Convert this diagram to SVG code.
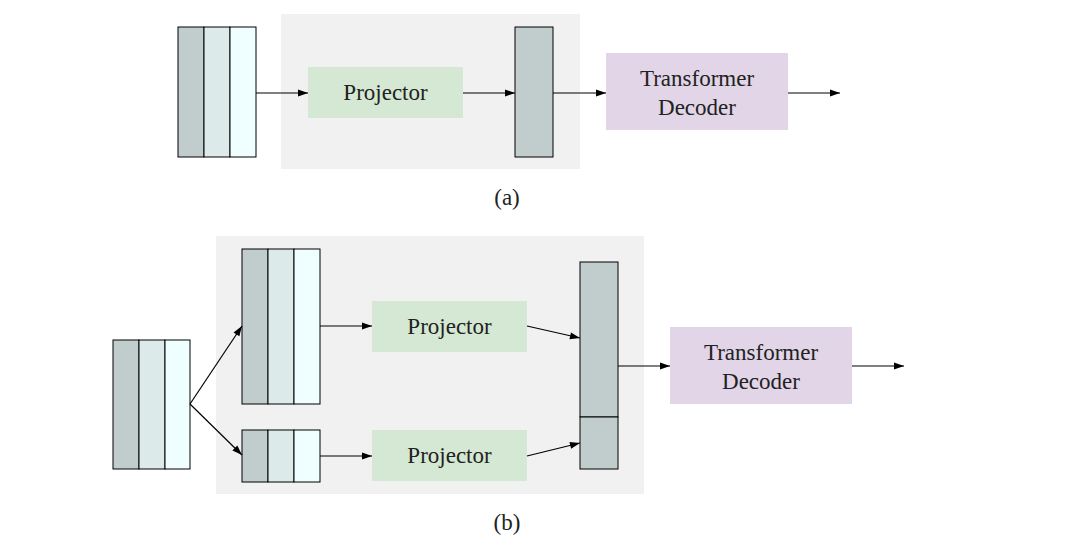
<svg xmlns="http://www.w3.org/2000/svg" width="1080" height="558" viewBox="0 0 1080 558">
<style>
.bg{fill:#f1f1f1}
.c1{fill:#c1cdcd;stroke:#000;stroke-width:1}
.c2{fill:#ddeaea;stroke:#000;stroke-width:1}
.c3{fill:#effefe;stroke:#000;stroke-width:1}
.proj{fill:#d5e8d4}
.dec{fill:#e1d5e7}
text{font-family:"Liberation Serif","DejaVu Serif",serif;font-size:23px;fill:#222;text-anchor:middle}
.ln{stroke:#000;stroke-width:1.2;fill:none;marker-end:url(#ah)}
</style>
<defs>
<marker id="ah" viewBox="0 0 10 10" refX="10" refY="5" markerWidth="16" markerHeight="10" markerUnits="userSpaceOnUse" orient="auto">
<path d="M0,1.5 L10,5 L0,8.5 Z" fill="#000"/>
</marker>
</defs>
<rect width="1080" height="558" fill="#fff"/>
<rect class="bg" x="281" y="14" width="299" height="155"/>
<rect class="bg" x="216" y="236" width="428" height="258"/>
<g id="a-input">
<rect class="c1" x="178" y="27" width="26" height="130"/>
<rect class="c2" x="204" y="27" width="26" height="130"/>
<rect class="c3" x="230" y="27" width="26" height="130"/>
</g>
<g id="a-projector"><rect class="proj" x="308" y="67" width="155" height="51"/><text x="385.5" y="100">Projector</text></g>
<g id="a-bar"><rect class="c1" x="515" y="27" width="38" height="130"/></g>
<g id="a-decoder"><rect class="dec" x="606" y="53" width="182" height="77"/><text x="697" y="86">Transformer</text><text x="697" y="115">Decoder</text></g>
<text x="507" y="205">(a)</text>
<g id="b-input">
<rect class="c1" x="113" y="340" width="26" height="129"/>
<rect class="c2" x="139" y="340" width="26" height="129"/>
<rect class="c3" x="165" y="340" width="25" height="129"/>
</g>
<g id="b-upper">
<rect class="c1" x="242" y="249" width="26" height="155"/>
<rect class="c2" x="268" y="249" width="26" height="155"/>
<rect class="c3" x="294" y="249" width="26" height="155"/>
</g>
<g id="b-lower">
<rect class="c1" x="242" y="430" width="26" height="52"/>
<rect class="c2" x="268" y="430" width="26" height="52"/>
<rect class="c3" x="294" y="430" width="26" height="52"/>
</g>
<g id="b-proj1"><rect class="proj" x="372" y="301" width="155" height="51"/><text x="449.5" y="334">Projector</text></g>
<g id="b-proj2"><rect class="proj" x="372" y="430" width="155" height="51"/><text x="449.5" y="463">Projector</text></g>
<g id="b-bar">
<rect class="c1" x="580" y="262" width="38" height="155"/>
<rect class="c1" x="580" y="417" width="38" height="52"/>
</g>
<g id="b-decoder"><rect class="dec" x="670" y="327" width="182" height="77"/><text x="761" y="360">Transformer</text><text x="761" y="389">Decoder</text></g>
<text x="507" y="530">(b)</text>
<g id="connectors">
<line class="ln" x1="256" y1="93" x2="308" y2="93"/>
<line class="ln" x1="463" y1="93" x2="515" y2="93"/>
<line class="ln" x1="553" y1="93" x2="606" y2="93"/>
<line class="ln" x1="788" y1="93" x2="840" y2="93"/>
<line class="ln" x1="190" y1="404" x2="242" y2="326"/>
<line class="ln" x1="190" y1="404" x2="242" y2="455"/>
<line class="ln" x1="320" y1="326" x2="372" y2="326"/>
<line class="ln" x1="320" y1="456" x2="372" y2="456"/>
<line class="ln" x1="527" y1="326" x2="580" y2="338"/>
<line class="ln" x1="527" y1="456" x2="580" y2="443"/>
<line class="ln" x1="618" y1="366" x2="670" y2="366"/>
<line class="ln" x1="852" y1="366" x2="904" y2="366"/>
</g>
</svg>
